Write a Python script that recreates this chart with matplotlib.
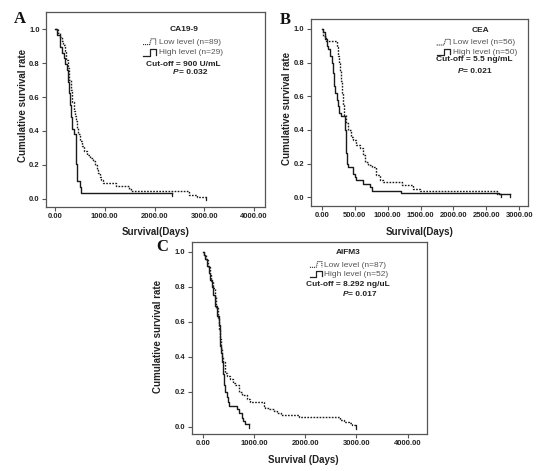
import matplotlib.pyplot as plt
from matplotlib.ticker import FormatStrFormatter

plt.rcParams['font.family'] = ['Liberation Sans', 'DejaVu Sans']

# ---- data (time in days, survival) ----
# A: CA19-9
a_low_t = [0, 60, 100, 140, 170, 200, 230, 260, 290, 320, 350, 380, 400, 420, 445, 470, 500, 540,
           580, 640, 700, 760, 800, 840, 870, 900, 925, 970, 1230, 1490, 1520, 2690, 2860]
a_low_s = [1.0, 0.98, 0.955, 0.93, 0.91, 0.87, 0.82, 0.77, 0.70, 0.64, 0.57, 0.52, 0.49, 0.46, 0.42,
           0.38, 0.34, 0.31, 0.28, 0.26, 0.24, 0.22, 0.20, 0.17, 0.15, 0.13, 0.11, 0.092, 0.077, 0.055,
           0.043, 0.024, 0.012]
a_low_end = 3040
a_high_t = [0, 45, 95, 150, 185, 210, 235, 255, 275, 295, 320, 345, 390, 420, 432, 440, 450, 505, 530]
a_high_s = [1.0, 0.966, 0.897, 0.862, 0.828, 0.793, 0.759, 0.690, 0.621, 0.552, 0.483, 0.414, 0.379,
            0.310, 0.207, 0.138, 0.103, 0.069, 0.034]
a_high_end = 2350

# B: CEA
b_low_t = [0, 25, 60, 230, 250, 265, 280, 295, 310, 325, 345, 370, 400, 440, 480, 520, 580, 630,
           660, 710, 760, 830, 880, 935, 1215, 1390, 1490, 2660]
b_low_s = [1.0, 0.96, 0.93, 0.89, 0.84, 0.80, 0.75, 0.69, 0.62, 0.55, 0.49, 0.44, 0.40, 0.36, 0.34,
           0.31, 0.29, 0.25, 0.21, 0.19, 0.18, 0.13, 0.10, 0.09, 0.07, 0.05, 0.035, 0.02]
b_low_end = 2720
b_high_t = [0, 25, 50, 75, 100, 125, 150, 170, 190, 205, 225, 245, 265, 290, 355, 365, 375, 385, 400,
            480, 500, 520, 630, 740, 765, 1210, 2690]
b_high_s = [1.0, 0.98, 0.94, 0.90, 0.88, 0.84, 0.80, 0.74, 0.66, 0.62, 0.58, 0.54, 0.50, 0.48, 0.40,
            0.32, 0.26, 0.20, 0.18, 0.14, 0.12, 0.10, 0.08, 0.06, 0.04, 0.027, 0.02]
b_high_end = 2860

# C: AIFM3
c_low_t = [0, 25, 60, 100, 140, 170, 200, 230, 260, 290, 320, 345, 365, 380, 400, 441, 480, 539, 590,
           637, 702, 760, 864, 929, 1190, 1222, 1300, 1385, 1450, 1530, 1870, 2680, 2750, 2850, 2920]
c_low_s = [1.0, 0.98, 0.95, 0.91, 0.87, 0.83, 0.79, 0.74, 0.68, 0.62, 0.56, 0.50, 0.45, 0.40, 0.37,
           0.31, 0.29, 0.275, 0.25, 0.237, 0.20, 0.18, 0.16, 0.142, 0.12, 0.105, 0.10, 0.09, 0.08,
           0.07, 0.055, 0.04, 0.03, 0.02, 0.01]
c_low_end = 3000
c_high_t = [0, 20, 50, 85, 120, 150, 180, 210, 245, 280, 310, 330, 345, 360, 377, 395, 410, 440, 470,
            500, 520, 660, 700, 760, 790, 830]
c_high_s = [1.0, 0.98, 0.96, 0.92, 0.88, 0.84, 0.80, 0.75, 0.69, 0.63, 0.58, 0.52, 0.46, 0.42, 0.37,
            0.30, 0.24, 0.20, 0.17, 0.14, 0.12, 0.10, 0.08, 0.05, 0.035, 0.015]
c_high_end = 910

W, H = 550, 471
fig = plt.figure(figsize=(W / 100, H / 100), dpi=100)


def add_ax(left, top, right, bottom):
    return fig.add_axes([left / W, 1 - bottom / H, (right - left) / W, (bottom - top) / H])


def km(ax, t, s, t_end, ls):
    tt = list(t) + [t_end]
    ss = list(s) + [s[-1]]
    ax.step(tt, ss, where='post', color='#1a1a1a', lw=1.0, ls=ls)
    ax.plot([t_end, t_end], [s[-1], s[-1] - 0.02], color='#1a1a1a', lw=0.9)


def panel(ax, letter, title, n_low, n_high, cutoff, pval, low, high, xstep, xmax, xlim, ylim, pos):
    km(ax, *low, ls=(0, (1.2, 1.0)))
    km(ax, *high, ls='-')
    ax.set_xlim(*xlim)
    ax.set_ylim(*ylim)
    ax.set_xticks(list(range(0, xmax + 1, xstep)))
    ax.set_yticks([0, 0.2, 0.4, 0.6, 0.8, 1.0])
    ax.xaxis.set_major_formatter(FormatStrFormatter('%.2f'))
    ax.yaxis.set_major_formatter(FormatStrFormatter('%.1f'))
    for sp in ax.spines.values():
        sp.set_color('#555555')
        sp.set_linewidth(0.9)
    ax.tick_params(colors='#555555', length=3, width=0.8, pad=1.5, labelsize=5.5,
                   labelcolor='#222222')
    for lab in ax.get_xticklabels() + ax.get_yticklabels():
        lab.set_fontweight('bold')
    ax.set_ylabel('Cumulative survival rate', fontsize=7, fontweight='bold', color='#222222',
                  va='center')
    ax.yaxis.set_label_coords(pos['ylab'][0], pos['ylab'][1])
    ax.set_xlabel(pos['xlabel'], fontsize=7, fontweight='bold', color='#222222', va='center')
    ax.xaxis.set_label_coords(pos['xlab'][0], pos['xlab'][1])

    tr = ax.transAxes
    ax.text(*pos['title'], title, transform=tr, ha='center', va='center', fontsize=6,
            fontweight='bold', color='#222222')
    lx, ly, hy, x0, x1 = pos['legend']
    ax.text(lx, ly, 'Low level (n=%d)' % n_low, transform=tr, ha='left', va='center',
            fontsize=6, color='#555555')
    ax.text(lx, hy, 'High level (n=%d)' % n_high, transform=tr, ha='left', va='center',
            fontsize=6, color='#555555')
    w = x1 - x0
    ax.plot([x0, x0 + 0.45 * w, x0 + 0.55 * w, x0 + 0.55 * w, x0 + 0.85 * w, x0 + 0.85 * w],
            [ly - 0.012, ly - 0.012, ly + 0.018, ly + 0.018, ly + 0.018, ly - 0.012],
            transform=tr, color='#333333', lw=0.8, ls=(0, (1, 0.8)), clip_on=False)
    ax.plot([x0, x0 + 0.45 * w, x0 + 0.45 * w, x0 + 0.85 * w, x0 + 0.85 * w],
            [hy - 0.015, hy - 0.015, hy + 0.018, hy + 0.018, hy - 0.01],
            transform=tr, color='#222222', lw=0.9, clip_on=False)
    ax.text(*pos['cut'], cutoff, transform=tr, ha='center', va='center', fontsize=6,
            fontweight='bold', color='#222222')
    px, py = pos['p']
    ax.text(px, py, 'P', transform=tr, ha='right', va='center', fontsize=6, fontweight='bold',
            fontstyle='italic', color='#222222')
    ax.text(px, py, '= ' + pval, transform=tr, ha='left', va='center', fontsize=6,
            fontweight='bold', color='#222222')
    ax.text(*pos['letter'], letter, transform=tr, ha='center', va='center', fontsize=12,
            fontweight='bold', family='Liberation Serif', color='#111111')


ax_a = add_ax(46, 12.3, 265, 206.7)
panel(ax_a, 'A', 'CA19-9', 89, 29, 'Cut-off = 900 U/mL', '0.032',
      (a_low_t, a_low_s, a_low_end), (a_high_t, a_high_s, a_high_end),
      1000, 4000, (-181, 4221), (-0.047, 1.100),
      dict(title=(0.63, 0.914), legend=(0.516, 0.846, 0.792, 0.443, 0.511),
           cut=(0.626, 0.734), p=(0.607, 0.689), letter=(-0.12, 0.965),
           ylab=(-0.105, 0.523), xlab=(0.5, -0.129), xlabel='Survival(Days)'))

ax_b = add_ax(310.7, 19, 528.3, 206)
panel(ax_b, 'B', 'CEA', 56, 50, 'Cut-off = 5.5 ng/mL', '0.021',
      (b_low_t, b_low_s, b_low_end), (b_high_t, b_high_s, b_high_end),
      500, 3000, (-167, 3136), (-0.052, 1.059),
      dict(title=(0.778, 0.941), legend=(0.654, 0.873, 0.822, 0.579, 0.653),
           cut=(0.750, 0.784), p=(0.70, 0.718), letter=(-0.118, 0.995),
           ylab=(-0.11, 0.523), xlab=(0.5, -0.137), xlabel='Survival(Days)'))

ax_c = add_ax(191.7, 242, 426.7, 434)
panel(ax_c, 'C', 'AIFM3', 87, 52, 'Cut-off = 8.292 ng/uL', '0.017',
      (c_low_t, c_low_s, c_low_end), (c_high_t, c_high_s, c_high_end),
      1000, 4000, (-215, 4371), (-0.041, 1.055),
      dict(title=(0.666, 0.944), legend=(0.563, 0.880, 0.832, 0.503, 0.563),
           cut=(0.666, 0.781), p=(0.667, 0.729), letter=(-0.127, 0.974),
           ylab=(-0.142, 0.507), xlab=(0.474, -0.135), xlabel='Survival (Days)'))

fig.savefig('out.png', dpi=100)
